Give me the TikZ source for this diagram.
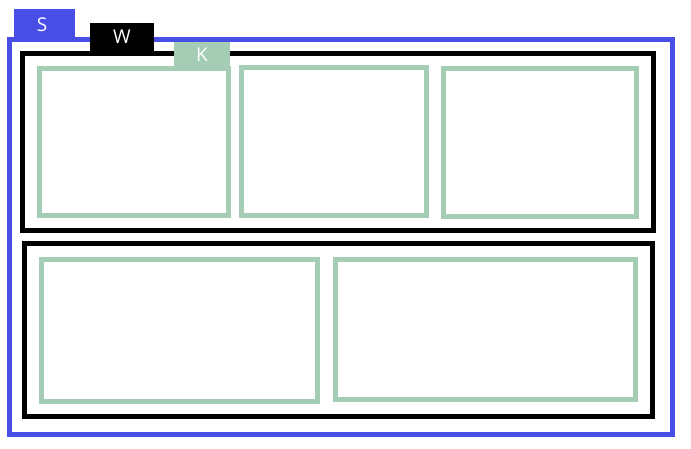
\documentclass[tikz,border=0pt]{standalone}
\usepackage{fontspec}
\setmainfont{Open Sans}
\usetikzlibrary{positioning}
\definecolor{sblue}{RGB}{72,78,230}
\definecolor{kgreen}{RGB}{165,205,181}
\tikzset{
  frameS/.style={draw=sblue, line width=5pt},
  frameW/.style={draw=black, line width=5pt},
  frameK/.style={draw=kgreen, line width=5pt},
  tab/.style={inner sep=0pt, text=white, font=\fontsize{19}{22}\selectfont}
}
\begin{document}
\begin{tikzpicture}[x=1pt,y=-1pt]
\useasboundingbox (0,0) rectangle (691,449);
% outer frame
\draw[frameS] (9.5,39.5) rectangle (672.5,434.5);
\node[fill=sblue, minimum width=61pt, minimum height=28pt, inner sep=0pt] (S) at (44.5,23) {};
\node[tab] (Slabel) at (42,25) {S};
% rows
\draw[frameW] (22.5,53.5) rectangle (653.5,230.5);
\draw[frameW] (24.5,243.5) rectangle (652.5,416.5);
\node[tab, fill=black, minimum width=64pt, minimum height=28pt] (W) at (122,37) {W};
% cells
\draw[frameK] (39.5,68.5) rectangle (228.5,215.5);
\draw[frameK] (241.5,67.5) rectangle (426.5,215.5);
\draw[frameK] (443.5,68.5) rectangle (636.5,216.5);
\draw[frameK] (41.5,259.5) rectangle (317.5,401.5);
\draw[frameK] (335.5,259.5) rectangle (635.5,399.5);
\node[tab, fill=kgreen, minimum width=56pt, minimum height=26pt] (K) at (202,55) {K};
\end{tikzpicture}
\end{document}
